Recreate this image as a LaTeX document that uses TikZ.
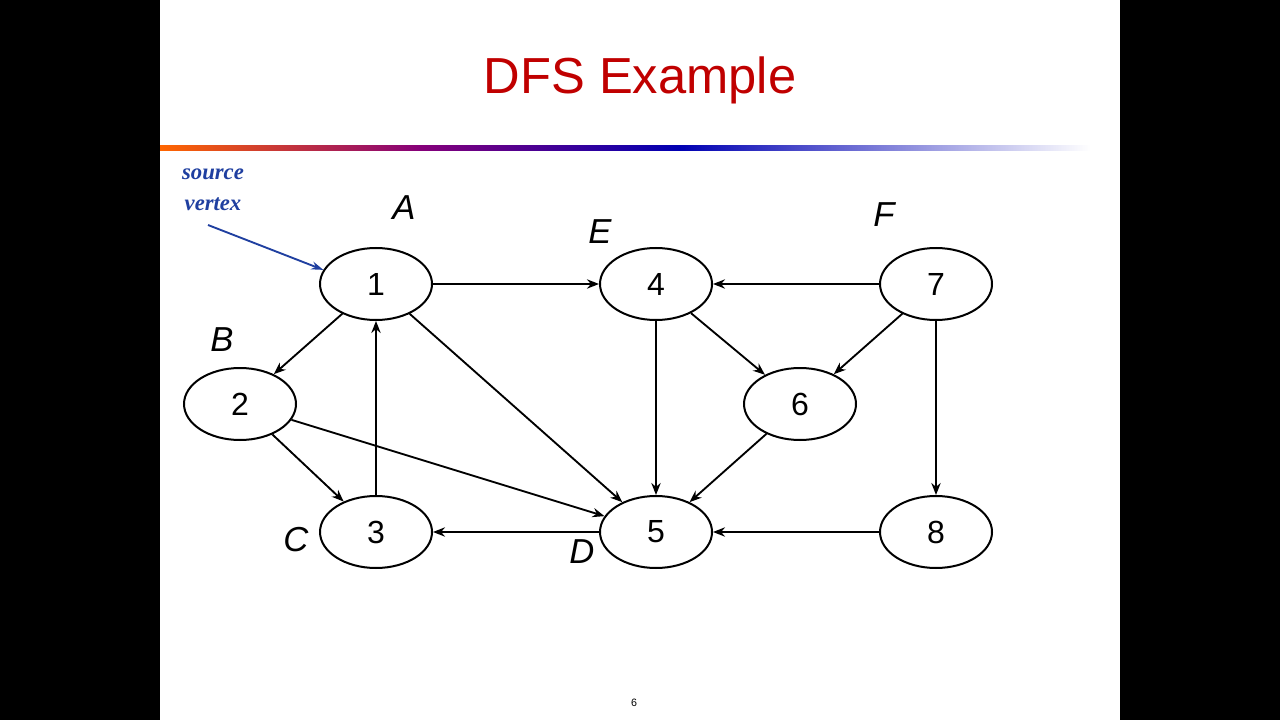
\documentclass[tikz,border=0pt]{standalone}
\usepackage{fontspec}
\setmainfont{Liberation Sans}
\newfontfamily\serifit{Liberation Serif}
\usetikzlibrary{shapes.geometric,arrows.meta}
\definecolor{titlered}{HTML}{C00000}
\definecolor{srcblue}{HTML}{1F3FA0}
\begin{document}
\begin{tikzpicture}[x=0.75pt,y=-0.75pt,
 vert/.style={ellipse,draw,line width=1.5pt,minimum width=84pt,minimum height=54pt,inner sep=0pt,font=\fontsize{24}{24}\selectfont},
 edge/.style={-{Stealth[length=9pt,width=7pt]},line width=1.4pt},
 hand/.style={font=\fontsize{26}{26}\selectfont\itshape}]
\fill[black] (0,0) rectangle (1280,720);
\fill[white] (160,0) rectangle (1120,720);
\useasboundingbox (0,0) rectangle (1280,720);
\node[text=titlered,font=\fontsize{38}{38}\selectfont] (title) at (640,80) {DFS Example};
\shade[left color=orange!80!red,right color=purple!70!blue] (160,146) rectangle (420,151);
\shade[left color=purple!70!blue,right color=blue!70!black] (420,146) rectangle (680,151);
\shade[left color=blue!70!black,right color=white] (680,146) rectangle (1090,151);
\node[vert] (n1) at (376,284) {1};
\node[vert] (n4) at (656,284) {4};
\node[vert] (n7) at (936,284) {7};
\node[vert] (n2) at (240,404) {2};
\node[vert] (n6) at (800,404) {6};
\node[vert] (n3) at (376,532) {3};
\node[vert] (n5) at (656,532) {5};
\node[vert] (n8) at (936,532) {8};
\draw[edge] (n1)--(n4);
\draw[edge] (n7)--(n4);
\draw[edge] (n1)--(n2);
\draw[edge] (n1)--(n5);
\draw[edge] (n2)--(n3);
\draw[edge] (n3)--(n1);
\draw[edge] (n2)--(n5);
\draw[edge] (n4)--(n5);
\draw[edge] (n4)--(n6);
\draw[edge] (n7)--(n6);
\draw[edge] (n6)--(n5);
\draw[edge] (n7)--(n8);
\draw[edge] (n8)--(n5);
\draw[edge] (n5)--(n3);
\node[hand] (la) at (404,208) {A};
\node[hand] (le) at (600,232) {E};
\node[hand] (lf) at (884,215) {F};
\node[hand] (lb) at (222,340) {B};
\node[hand] (lc) at (296,540) {C};
\node[hand] (ld) at (582,552) {D};
\node[text=srcblue,font=\serifit\fontsize{17}{23}\selectfont\bfseries\itshape,align=center] (src) at (213,190) {source\\vertex};
\coordinate (s0) at (208,225);
\draw[srcblue,line width=1.4pt,-{Stealth[length=9pt,width=6pt]}] (s0)--(n1.165);
\node[font=\fontsize{8}{8}\selectfont] (pg) at (634,703) {6};
\end{tikzpicture}
\end{document}
